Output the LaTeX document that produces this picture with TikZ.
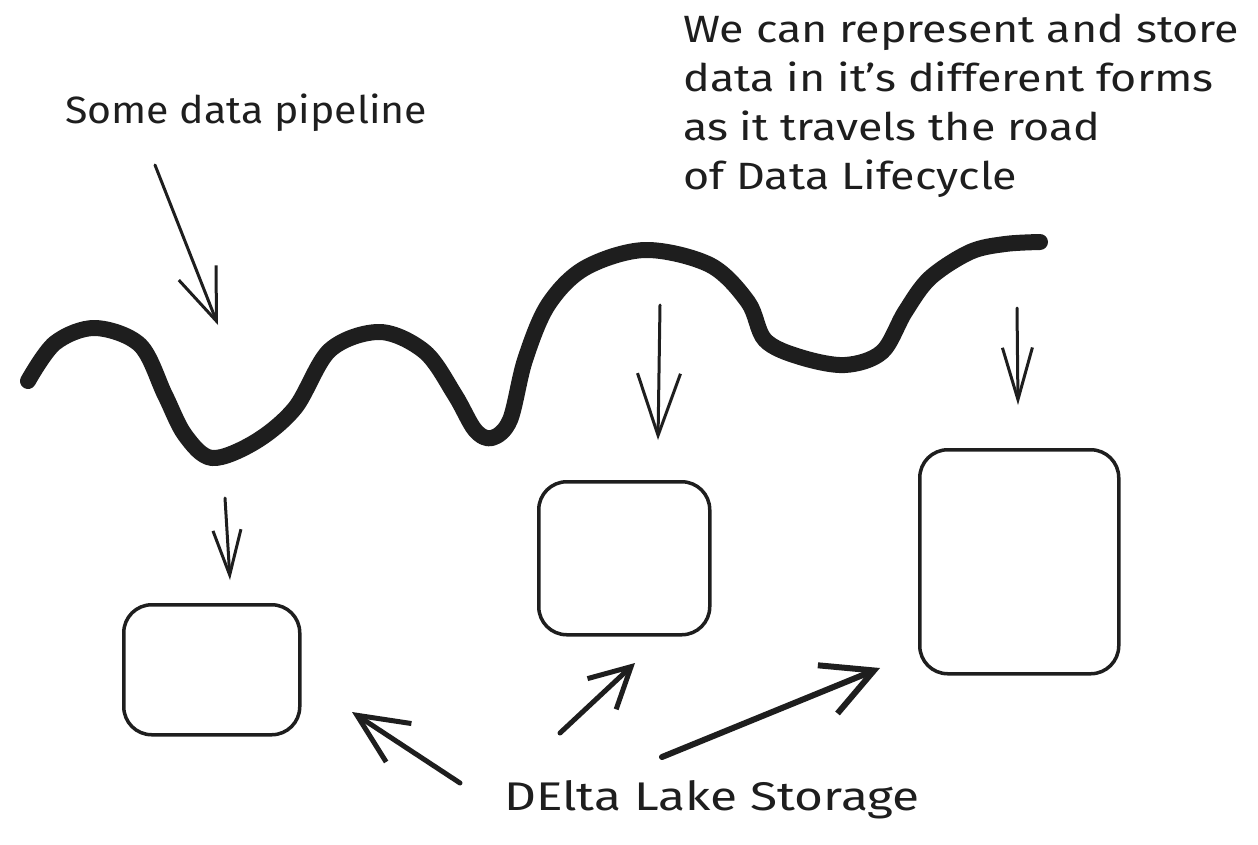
\documentclass[tikz,border=0pt]{standalone}
\usepackage{fontspec}
\setmainfont{Fira Sans}
\newfontfamily\pipefont[FakeStretch=1.08,Ligatures=TeX]{Fira Sans}
\newfontfamily\notefont[FakeStretch=1.18,Ligatures=TeX]{Fira Sans}
\newfontfamily\deltafont[FakeStretch=1.24,Ligatures=TeX]{Fira Sans}
\usetikzlibrary{arrows.meta}
\definecolor{ink}{HTML}{1E1E1E}
\tikzset{
  ink/.style={draw=ink, line cap=round, line join=round},
  box/.style={ink, line width=3.5pt, rounded corners=28pt, inner sep=0pt, anchor=north west},
  thinarrow/.style={ink, line width=3pt},
  boldarrow/.style={ink, line width=5pt},
  label/.style={text=ink, inner sep=0pt, align=left},
}
\begin{document}
\begin{tikzpicture}[x=1pt,y=-1pt]
\useasboundingbox (0,0) rectangle (1258,844);
% texts
\node[label, anchor=west, font=\pipefont\fontsize{38}{49}\selectfont] (pipe) at (65,113) {Some data pipeline};
\node[label, anchor=north west, font=\notefont\fontsize{38}{49}\selectfont] (note) at (683,14) {We can represent and store\\data in it’s different forms\\as it travels the road\\of Data Lifecycle};
\node[label, font=\deltafont\fontsize{40}{49}\selectfont] (delta) at (712,800) {DElta Lake Storage};
% road
\draw[ink, line width=16pt] plot[smooth, tension=0.55] coordinates {
 (28,381) (55,343) (95,328) (140,345) (165,395) (185,435) (212,458) (255,442)
 (295,408) (330,350) (380,332) (425,352) (455,395) (475,430) (492,438) (510,420)
 (525,360) (548,305) (585,268) (645,250) (710,265) (748,302) (765,340) (800,357)
 (845,365) (882,352) (905,312) (930,278) (970,252) (1005,244) (1040,242)};
% boxes
\node[box, minimum width=176pt, minimum height=130pt] (b1) at (122,603) {};
\node[box, minimum width=171pt, minimum height=153pt] (b2) at (537,480) {};
\node[box, minimum width=199pt, minimum height=224pt] (b3) at (918,448) {};
% down arrows
\coordinate (p1s) at (155,165); \coordinate (p1e) at (218,325);
\draw[thinarrow, -{Straight Barb[length=52pt,width=40pt]}] (p1s) -- (p1e);
\coordinate (d1s) at (225,498); \coordinate (d1e) at (230,580);
\draw[thinarrow, -{Straight Barb[length=45pt,width=28pt]}] (d1s) -- (d1e);
\coordinate (d2s) at (660,305); \coordinate (d2e) at (658,440);
\draw[thinarrow, -{Straight Barb[length=62pt,width=43pt]}] (d2s) -- (d2e);
\coordinate (d3s) at (1017,308); \coordinate (d3e) at (1018,405);
\draw[thinarrow, -{Straight Barb[length=52pt,width=30pt]}] (d3s) -- (d3e);
% up arrows from label
\coordinate (u1s) at (460,783); \coordinate (u1e) at (352,712);
\draw[boldarrow, -{Straight Barb[length=50pt,width=46pt]}] (u1s) -- (u1e);
\coordinate (u2s) at (560,733); \coordinate (u2e) at (635,663);
\draw[boldarrow, -{Straight Barb[length=40pt,width=42pt]}] (u2s) -- (u2e);
\coordinate (u3s) at (662,757); \coordinate (u3e) at (880,668);
\draw[boldarrow, line width=6pt, -{Straight Barb[length=50pt,width=52pt]}] (u3s) -- (u3e);
\end{tikzpicture}
\end{document}
